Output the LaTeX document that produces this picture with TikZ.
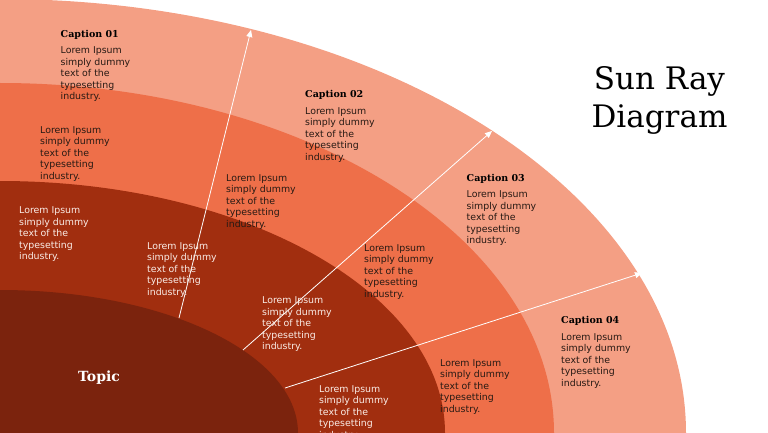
\documentclass[tikz,border=0pt]{standalone}
\usepackage{fontspec}
\setmainfont{DejaVu Serif}
\setsansfont{DejaVu Sans}
\usetikzlibrary{arrows.meta}
\definecolor{ringA}{RGB}{244,159,132}
\definecolor{ringB}{RGB}{238,111,73}
\definecolor{ringC}{RGB}{161,46,15}
\definecolor{ringD}{RGB}{123,35,13}
\definecolor{darktxt}{RGB}{40,26,20}
\definecolor{lighttxt}{RGB}{250,236,230}
\tikzset{
  bodytxt/.style={font=\sffamily\fontsize{9.4}{11.6}\selectfont, align=left, anchor=north west, inner sep=0pt, text=darktxt},
  bodywhite/.style={bodytxt, text=lighttxt},
  captxt/.style={font=\bfseries\fontsize{9.5}{11.6}\selectfont, anchor=north west, inner sep=0pt, text=black},
  rayline/.style={draw=white, line width=0.8pt, -{Triangle[length=7pt,width=6pt]}}
}
\newcommand{\lorem}{Lorem Ipsum\\simply dummy\\text of the\\typesetting\\industry.}
\begin{document}
\begin{tikzpicture}[x=1pt,y=-1pt]
\useasboundingbox (0,0) rectangle (768,433);
\begin{scope}
\clip (0,0) rectangle (768,433);
\fill[ringA] (0,433) ellipse [x radius=686, y radius=434];
\fill[ringB] (0,433) ellipse [x radius=554, y radius=350];
\fill[ringC] (0,433) ellipse [x radius=445, y radius=252];
\fill[ringD] (0,433) ellipse [x radius=298, y radius=143];
\end{scope}
% rays
\coordinate (r1s) at (179,318);
\coordinate (r1e) at (251,30);
\coordinate (r2s) at (243,350);
\coordinate (r2e) at (492,131);
\coordinate (r3s) at (285,388);
\coordinate (r3e) at (642,273);
\draw[rayline] (r1s) -- (r1e);
\draw[rayline] (r2s) -- (r2e);
\draw[rayline] (r3s) -- (r3e);
% title
\node[font=\fontsize{31}{38}\selectfont, align=center, anchor=north, inner sep=0pt] (title) at (659.5,66) {Sun Ray\\Diagram};
% captions
\node[captxt] (cap1) at (60.5,30) {Caption 01};
\node[bodytxt] (txt1) at (60.5,46.5) {\lorem};
\node[captxt] (cap2) at (305,90.5) {Caption 02};
\node[bodytxt] (txt2) at (305,107) {\lorem};
\node[captxt] (cap3) at (466.5,174) {Caption 03};
\node[bodytxt] (txt3) at (466.5,190.5) {\lorem};
\node[captxt] (cap4) at (561,316.5) {Caption 04};
\node[bodytxt] (txt4) at (561,333) {\lorem};
% ring B texts
\node[bodytxt] (tb1) at (40,126) {\lorem};
\node[bodytxt] (tb2) at (226,174) {\lorem};
\node[bodytxt] (tb3) at (364,244) {\lorem};
\node[bodytxt] (tb4) at (440,359) {\lorem};
% ring C texts
\node[bodywhite] (tc1) at (19,206.5) {\lorem};
\node[bodywhite] (tc2) at (147,242) {\lorem};
\node[bodywhite] (tc3) at (262,296.5) {\lorem};
\node[bodywhite] (tc4) at (319,385) {\lorem};
% topic
\node[font=\bfseries\fontsize{14}{16}\selectfont, text=white, anchor=base, inner sep=0pt] (topic) at (99,381.5) {Topic};
\end{tikzpicture}
\end{document}
